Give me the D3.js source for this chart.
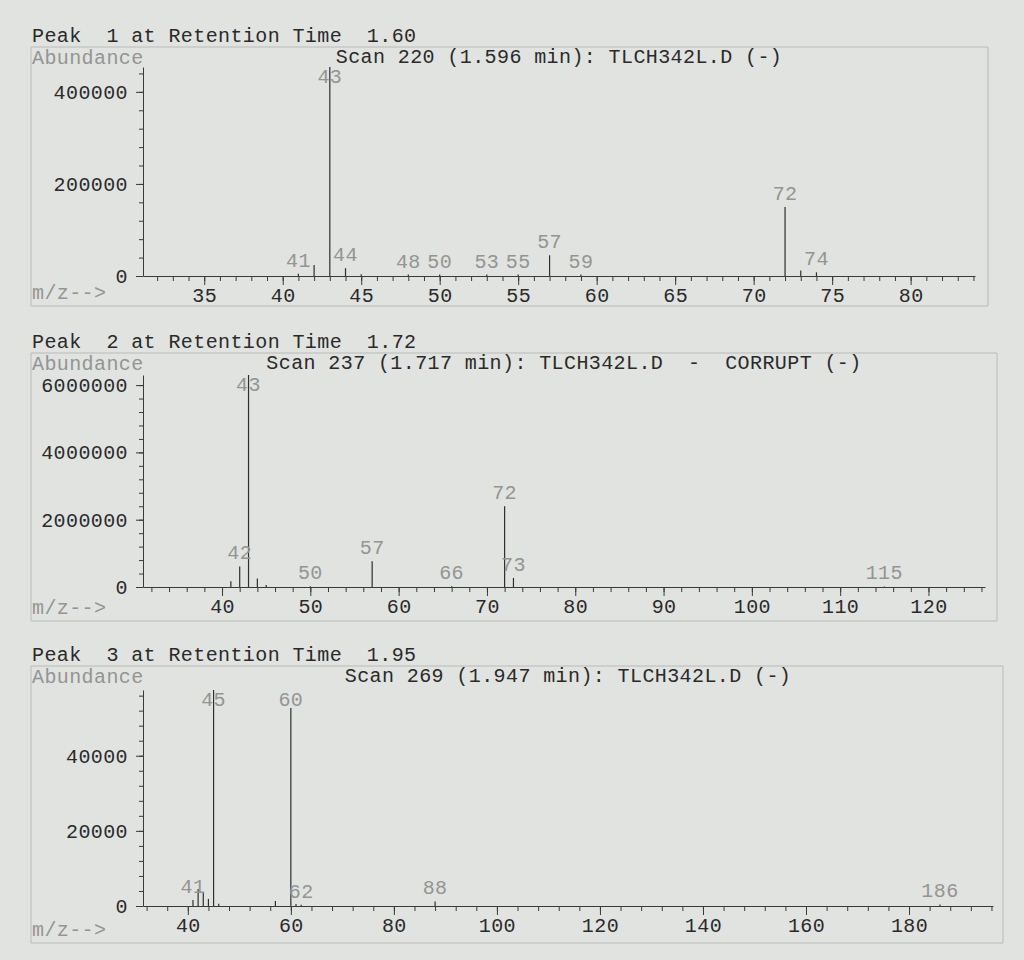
<!DOCTYPE html>
<html>
<head>
<meta charset="utf-8">
<script src="https://cdn.jsdelivr.net/npm/d3@7"></script>
<style>
  body { margin: 0; background: #e1e3e0; }
  svg text {
    font-family: "Liberation Mono", "DejaVu Sans Mono", monospace;
    font-size: 20px;
    letter-spacing: 0.4px;
    white-space: pre;
  }
</style>
</head>
<body>
<svg id="chart" width="1024" height="960"></svg>
<script>
  // ---- data ----
  var titles = [
    "Peak  1 at Retention Time  1.60",
    "Peak  2 at Retention Time  1.72",
    "Peak  3 at Retention Time  1.95"
  ];
  var scanLines = [
    "Scan 220 (1.596 min): TLCH342L.D (-)",
    "Scan 237 (1.717 min): TLCH342L.D  -  CORRUPT (-)",
    "Scan 269 (1.947 min): TLCH342L.D (-)"
  ];

  // peak 1
  var peak1Mz     = [41, 42, 43, 44, 45, 48, 50, 53, 55, 57, 59, 72, 73, 74];
  var peak1Abund  = [5000, 24000, 454000, 17000, 4000, 3000, 3000, 3000, 3000, 45000, 3000, 150000, 12000, 8000];
  var peak1Labels = [41, 43, 44, 48, 50, 53, 55, 57, 59, 72, 74];
  var peak1XTicks = [35, 40, 45, 50, 55, 60, 65, 70, 75, 80];
  var peak1YTicks = [0, 200000, 400000];

  // peak 2
  var peak2Mz     = [41, 42, 43, 44, 45, 50, 57, 66, 72, 73, 115];
  var peak2Abund  = [170000, 610000, 6300000, 250000, 60000, 20000, 765000, 20000, 2400000, 270000, 15000];
  var peak2Labels = [42, 43, 50, 57, 66, 72, 73, 115];
  var peak2XTicks = [40, 50, 60, 70, 80, 90, 100, 110, 120];
  var peak2YTicks = [0, 2000000, 4000000, 6000000];

  // peak 3
  var peak3Mz     = [41, 42, 43, 44, 45, 46, 57, 60, 61, 62, 88, 186];
  var peak3Abund  = [1600, 4500, 3500, 1900, 57500, 600, 1300, 52700, 500, 300, 1200, 400];
  var peak3Labels = [41, 45, 60, 62, 88, 186];
  var peak3XTicks = [40, 60, 80, 100, 120, 140, 160, 180];
  var peak3YTicks = [0, 20000, 40000];

  var svg = d3.select("#chart");
  svg.append("rect").attr("width", 1024).attr("height", 960).attr("fill", "#e1e3e0");

  // layout of each printed panel
  var panels = [
    { title: titles[0], scan: scanLines[0], top: 42, right: 988, bottom: 306,
      xr: [143, 975], xd: [31.1, 84.1], yr: [276, 67], ymax: 454000,
      mz: peak1Mz, ab: peak1Abund, lab: peak1Labels,
      xTicks: peak1XTicks, xMinor: 1, yTicks: peak1YTicks, yMinor: 40000 },
    { title: titles[1], scan: scanLines[1], top: 348, right: 997, bottom: 621,
      xr: [143, 985], xd: [31.05, 126.4], yr: [587, 375], ymax: 6300000,
      mz: peak2Mz, ab: peak2Abund, lab: peak2Labels,
      xTicks: peak2XTicks, xMinor: 2, yTicks: peak2YTicks, yMinor: 400000 },
    { title: titles[2], scan: scanLines[2], top: 661, right: 1003, bottom: 943,
      xr: [143, 993], xd: [31.3, 196.3], yr: [906, 690], ymax: 57500,
      mz: peak3Mz, ab: peak3Abund, lab: peak3Labels,
      xTicks: peak3XTicks, xMinor: 4, yTicks: peak3YTicks, yMinor: 4000 }
  ];

  var ink = "#2a2a2a", grey = "#939593";

  panels.forEach(function(p) {
    var g = svg.append("g");

    // faint frame round the panel
    g.append("path")
      .attr("d", "M31," + (p.top + 5) + "H" + p.right + "V" + p.bottom + "H31Z")
      .attr("fill", "none")
      .attr("stroke", "#b9bbb8")
      .attr("stroke-width", 1);

    g.append("text").attr("x", 32).attr("y", p.top).attr("fill", ink).text(p.title);
    g.append("text").attr("x", (p.xr[0] + p.xr[1]) / 2).attr("y", p.top + 21)
      .attr("text-anchor", "middle").attr("fill", ink).text(p.scan);
    g.append("text").attr("x", 32).attr("y", p.top + 22).attr("fill", grey).text("Abundance");
    g.append("text").attr("x", 32).attr("y", p.bottom - 7).attr("fill", grey).text("m/z-->");

    var x = d3.scaleLinear().domain(p.xd).range(p.xr);
    var y = d3.scaleLinear().domain([0, p.ymax]).range(p.yr);

    var xMinorVals = d3.range(Math.ceil(p.xd[0] / p.xMinor) * p.xMinor, p.xd[1], p.xMinor);
    var yMinorVals = d3.range(0, p.ymax, p.yMinor);

    // minor ticks first
    g.append("g").attr("transform", "translate(0," + p.yr[0] + ")")
      .call(d3.axisBottom(x).tickValues(xMinorVals).tickSize(5).tickFormat(""))
      .call(function(a) { a.select(".domain").remove(); });
    g.append("g").attr("transform", "translate(" + p.xr[0] + ",0)")
      .call(d3.axisLeft(y).tickValues(yMinorVals).tickSize(4).tickFormat(""))
      .call(function(a) { a.select(".domain").remove(); });

    var xa = g.append("g").attr("transform", "translate(0," + p.yr[0] + ")")
      .call(d3.axisBottom(x).tickValues(p.xTicks).tickSize(9).tickSizeOuter(0).tickPadding(3));
    var ya = g.append("g").attr("transform", "translate(" + p.xr[0] + ",0)")
      .call(d3.axisLeft(y).tickValues(p.yTicks).tickSize(7).tickSizeOuter(0).tickPadding(8)
        .tickFormat(d3.format("d")));

    g.selectAll(".tick line, .domain").attr("stroke", "#3a3a3a");
    [xa, ya].forEach(function(a) {
      a.attr("font-size", null).attr("font-family", null);
      a.selectAll("text").attr("fill", ink);
    });

    // spectrum stems
    var peaks = d3.zip(p.mz, p.ab);
    g.selectAll("line.stem").data(peaks).join("line")
      .attr("class", "stem")
      .attr("x1", function(d) { return x(d[0]); })
      .attr("x2", function(d) { return x(d[0]); })
      .attr("y1", y(0))
      .attr("y2", function(d) { return y(d[1]); })
      .attr("stroke", "#2e2e2e")
      .attr("stroke-width", 1.2);

    // grey m/z labels over the peaks
    g.selectAll("text.lab").data(peaks.filter(function(d) { return p.lab.indexOf(d[0]) >= 0; }))
      .join("text")
      .attr("class", "lab")
      .attr("x", function(d) { return x(d[0]); })
      .attr("y", function(d) { return Math.max(y(d[1]) - 7, p.yr[1] + 16); })
      .attr("text-anchor", "middle")
      .attr("fill", grey)
      .text(function(d) { return d[0]; });
  });
</script>
</body>
</html>
